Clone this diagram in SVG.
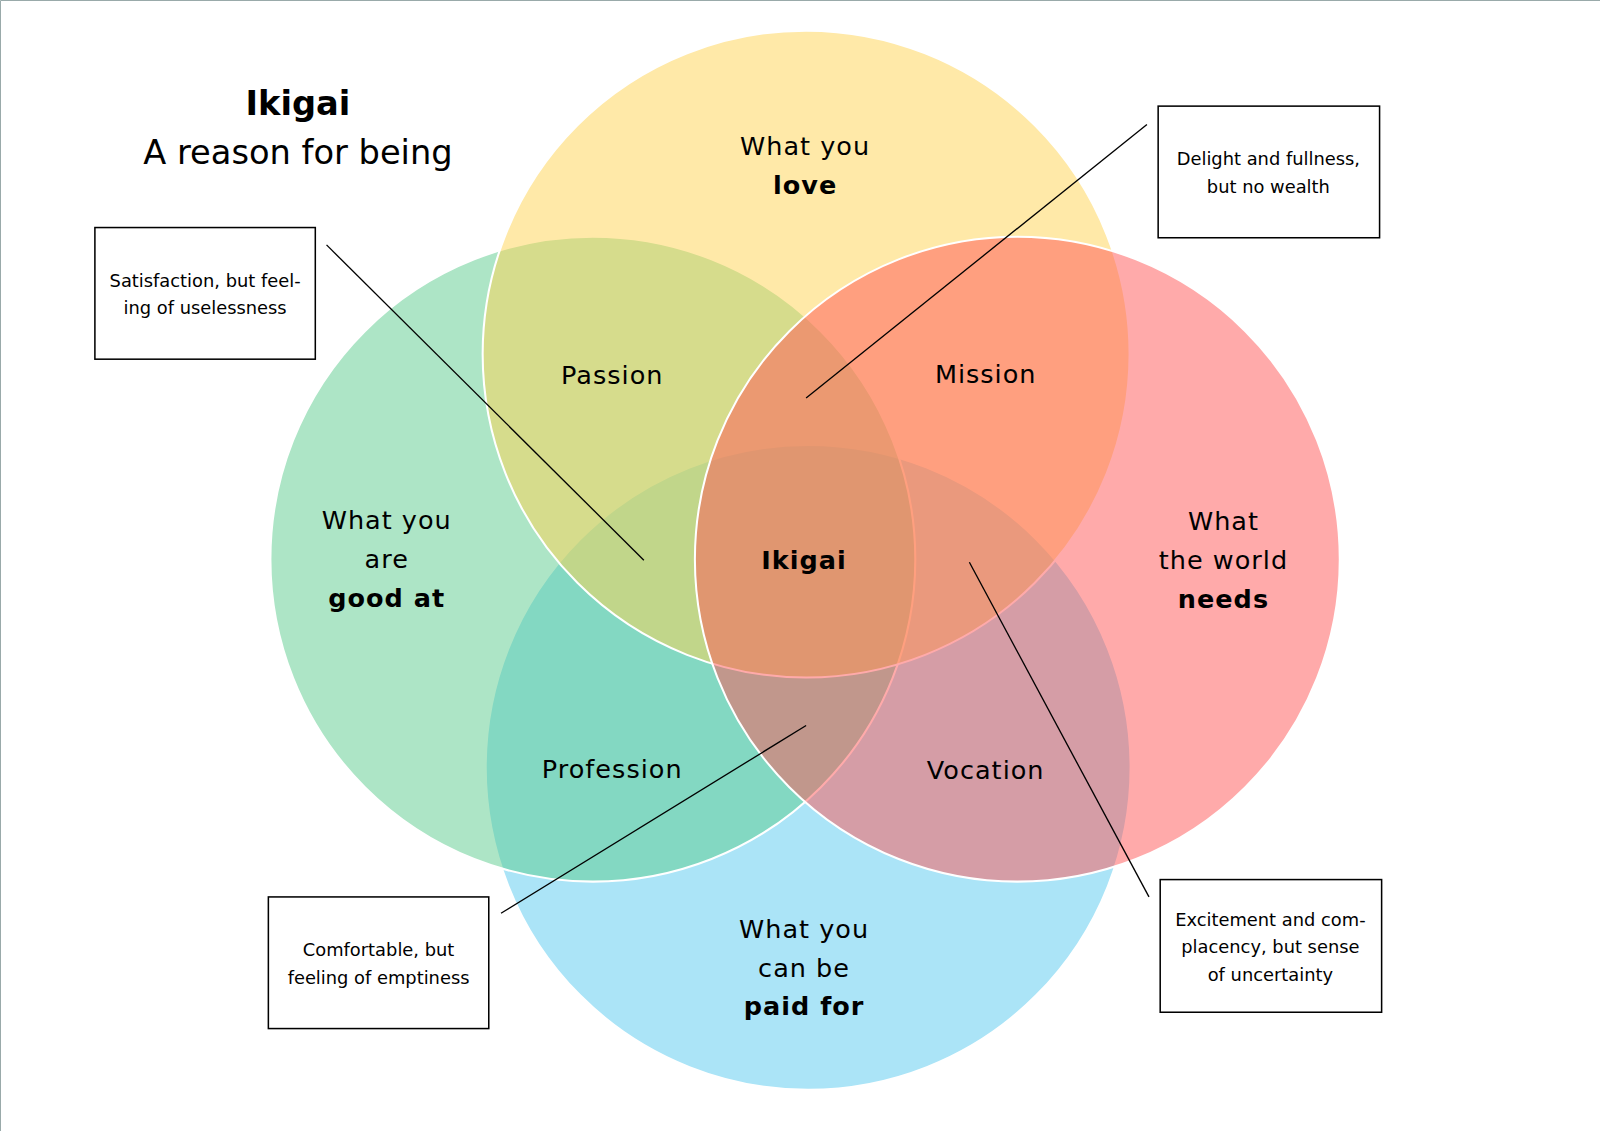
<svg xmlns="http://www.w3.org/2000/svg" width="1600" height="1131" viewBox="0 0 1600 1131">
<style>
text{font-family:"DejaVu Sans","Verdana",sans-serif;fill:#000;text-anchor:middle}
.c{stroke:#fff;stroke-width:2;fill-opacity:0.5}
.l{font-size:25px;letter-spacing:1px}
.b{font-weight:bold}
.bx{fill:#fff;stroke:#000;stroke-width:1.5}
.t{font-size:17.5px}
.ln{stroke:#000;stroke-width:1.3}
</style>
<rect width="1600" height="1131" fill="#fff"/>
<path d="M0.5 1131V0.5H1600" fill="none" stroke="#9aa" stroke-width="1"/>
<g transform="scale(1.0204)">
<g id="circles">
<circle id="paid" class="c" cx="792" cy="752" r="316" fill="#57C9EF"/>
<circle id="good" class="c" cx="581" cy="548" r="316" fill="#5BCB8D"/>
<circle id="love" class="c" cx="790" cy="347" r="317" fill="#FFD351"/>
<circle id="needs" class="c" cx="997" cy="548" r="316" fill="#FF5555"/>
</g>
<g id="title"><text x="292" y="113" font-size="33" class="b">Ikigai</text><text x="292" y="161" font-size="33">A reason for being</text></g>
<g id="labels">
<text class="l" x="789" y="152">What you</text><text class="l b" x="789" y="190">love</text>
<text class="l" x="379" y="518">What you</text><text class="l" x="379" y="557">are</text><text class="l b" x="379" y="595">good at</text>
<text class="l" x="1199" y="519">What</text><text class="l" x="1199" y="558">the world</text><text class="l b" x="1199" y="596">needs</text>
<text class="l" x="788" y="919">What you</text><text class="l" x="788" y="957">can be</text><text class="l b" x="788" y="995">paid for</text>
<text class="l" x="600" y="376">Passion</text>
<text class="l" x="966" y="375">Mission</text>
<text class="l" x="600" y="762">Profession</text>
<text class="l" x="966" y="763">Vocation</text>
<text class="l b" x="788" y="558">Ikigai</text>
</g>
<g id="connectors">
<line class="ln" x1="320" y1="240" x2="631" y2="549"/>
<line class="ln" x1="1124" y1="122" x2="790" y2="390"/>
<line class="ln" x1="950" y1="551" x2="1126" y2="879"/>
<line class="ln" x1="790" y1="711" x2="491" y2="895"/>
</g>
<g id="box1"><rect class="bx" x="93" y="223" width="216" height="129"/><text class="t" x="201" y="281">Satisfaction, but feel-</text><text class="t" x="201" y="308">ing of uselessness</text></g>
<g id="box2"><rect class="bx" x="1135" y="104" width="217" height="129"/><text class="t" x="1243" y="162">Delight and fullness,</text><text class="t" x="1243" y="189">but no wealth</text></g>
<g id="box3"><rect class="bx" x="263" y="879" width="216" height="129"/><text class="t" x="371" y="937">Comfortable, but</text><text class="t" x="371" y="964">feeling of emptiness</text></g>
<g id="box4"><rect class="bx" x="1137" y="862" width="217" height="130"/><text class="t" x="1245" y="907">Excitement and com-</text><text class="t" x="1245" y="934">placency, but sense</text><text class="t" x="1245" y="961">of uncertainty</text></g>
</g>
</svg>
